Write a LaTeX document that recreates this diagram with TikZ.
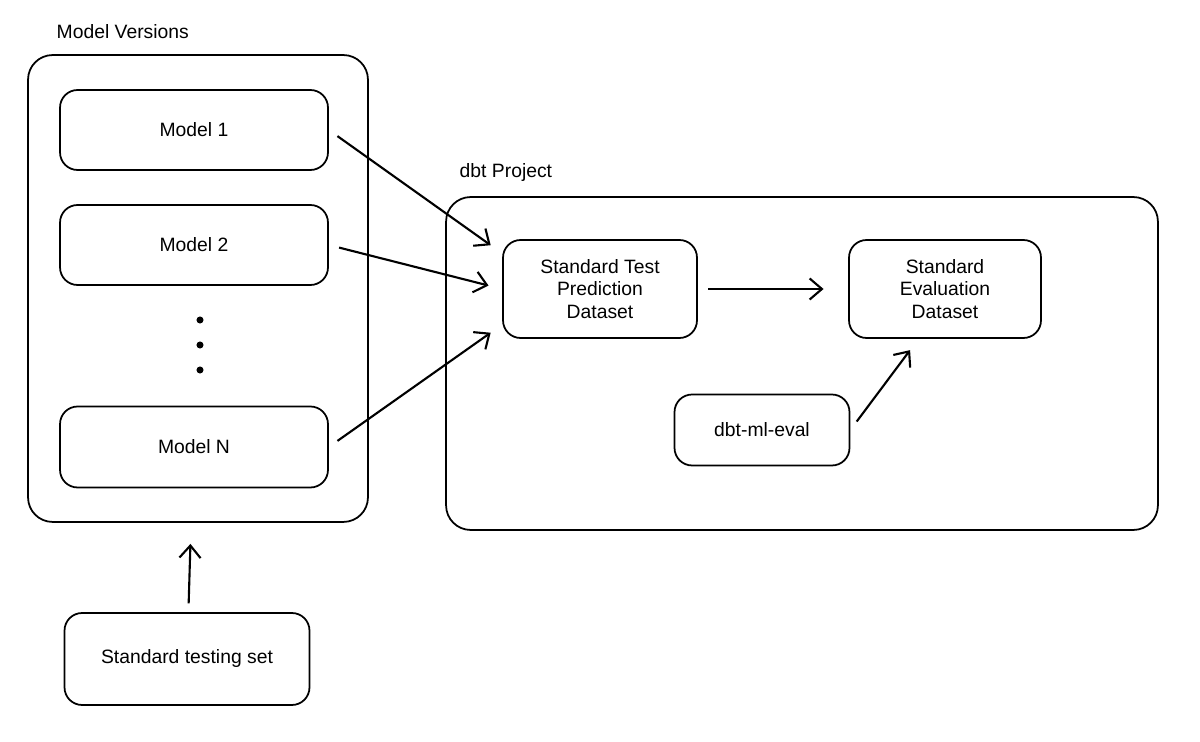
\documentclass[tikz,border=0pt]{standalone}
\usepackage{fontspec}
\setmainfont{Liberation Sans}
\usetikzlibrary{positioning,arrows.meta}
\begin{document}
\begin{tikzpicture}[x=0.02cm, y=-0.02cm, line width=1pt, >={Straight Barb[length=7pt,width=12pt]}, every node/.style={font=\fontsize{11}{13}\selectfont}]
    \tikzset{box/.style={rectangle, draw, rounded corners=10pt, align=center, inner sep=0pt},
             frame/.style={rectangle, draw, rounded corners=14pt, inner sep=0pt},
             link/.style={->, line width=1.2pt, shorten <=6pt, shorten >=8pt}}
    \useasboundingbox (0,0) rectangle (1200,742);
    % model versions
    \node (versions) [frame, minimum width=6.8cm, minimum height=9.34cm] at (198,288.5) {};
    \node (versionsLabel) [anchor=west] at (50,32) {Model Versions};
    \node (m1) [box, minimum width=5.36cm, minimum height=1.6cm] at (194,130) {Model 1};
    \node (m2) [box, minimum width=5.36cm, minimum height=1.6cm] at (194,245) {Model 2};
    \node (mn) [box, minimum width=5.36cm, minimum height=1.62cm] at (194,447) {Model N};
    \foreach \y in {320,345,370} \fill (200,\y) circle (2pt);
    \node (testing) [box, minimum width=4.9cm, minimum height=1.84cm] at (187,659) {Standard testing set};
    % dbt project
    \node (project) [frame, minimum width=14.24cm, minimum height=6.66cm] at (802,363.5) {};
    \node (projectLabel) [anchor=west] at (453,173) {dbt Project};
    \node (stpd) [box, minimum width=3.88cm, minimum height=1.96cm] at (600,289) {Standard Test\\Prediction\\Dataset};
    \node (sed) [box, minimum width=3.84cm, minimum height=1.96cm] at (945,289) {Standard\\Evaluation\\Dataset};
    \node (mleval) [box, minimum width=3.5cm, minimum height=1.42cm] at (762,430) {dbt-ml-eval};

    \draw [link, shorten <=5pt, shorten >=12pt] (testing) -- (versions);
    \draw [link] (m1.east) -- (stpd.160);
    \draw [link] (m2.east) -- (stpd.west);
    \draw [link] (mn.east) -- (stpd.200);
    \draw [link, shorten >=14pt] (stpd) -- (sed);
    \draw [link] (mleval.east) -- (sed.-118);
\end{tikzpicture}
\end{document}
